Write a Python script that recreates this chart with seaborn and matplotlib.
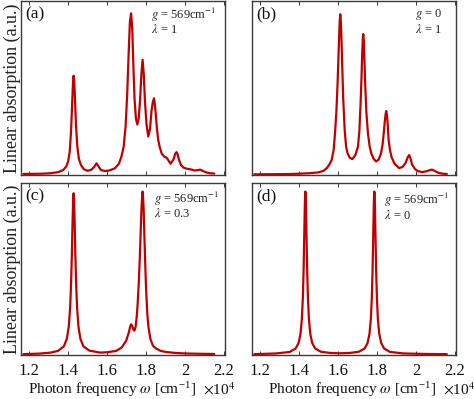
import numpy as np
import pandas as pd
import matplotlib
matplotlib.use("Agg")
import matplotlib.pyplot as plt
import seaborn as sns

# ---------------- data (x in units of 1e4 cm^-1, y normalised absorption) ----------------
xa = [1.17, 1.25, 1.31, 1.35, 1.375, 1.39, 1.40, 1.408, 1.415, 1.421, 1.425, 1.428, 1.431,
      1.435, 1.440, 1.447, 1.455, 1.465, 1.48, 1.50, 1.52, 1.535, 1.546, 1.556, 1.568, 1.588,
      1.61, 1.639, 1.66, 1.673, 1.685, 1.695, 1.703, 1.711, 1.717, 1.723, 1.729, 1.735, 1.741,
      1.748, 1.755, 1.762, 1.769, 1.776, 1.782, 1.788, 1.794, 1.802, 1.811, 1.82, 1.828, 1.835,
      1.841, 1.848, 1.855, 1.862, 1.870, 1.88, 1.892, 1.905, 1.915, 1.926, 1.94, 1.95, 1.956,
      1.962, 1.97, 1.98, 1.993, 2.007, 2.02, 2.035, 2.05, 2.065, 2.078, 2.09, 2.111, 2.13, 2.15]
ya = [0.002, 0.003, 0.006, 0.013, 0.025, 0.045, 0.075, 0.13, 0.25, 0.42, 0.53, 0.569, 0.54,
      0.44, 0.29, 0.16, 0.09, 0.055, 0.03, 0.02, 0.027, 0.045, 0.063, 0.045, 0.025, 0.019,
      0.022, 0.034, 0.06, 0.10, 0.16, 0.28, 0.46, 0.713, 0.88, 0.929, 0.84, 0.617, 0.43,
      0.32, 0.287, 0.32, 0.425, 0.58, 0.661, 0.58, 0.425, 0.29, 0.218, 0.26, 0.368, 0.42,
      0.439, 0.37, 0.272, 0.2, 0.157, 0.12, 0.103, 0.096, 0.08, 0.061, 0.085, 0.12, 0.128,
      0.115, 0.08, 0.052, 0.038, 0.033, 0.03, 0.027, 0.022, 0.024, 0.027, 0.02, 0.01, 0.006, 0.004]

xb = [1.17, 1.30, 1.364, 1.449, 1.499, 1.525, 1.542, 1.557, 1.567, 1.577, 1.584, 1.591, 1.597,
      1.601, 1.605, 1.608, 1.611, 1.614, 1.617, 1.621, 1.626, 1.634, 1.641, 1.648, 1.66, 1.673,
      1.688, 1.702, 1.709, 1.715, 1.72, 1.724, 1.727, 1.729, 1.732, 1.735, 1.739, 1.745, 1.753,
      1.762, 1.77, 1.782, 1.795, 1.808, 1.82, 1.828, 1.834, 1.84, 1.844, 1.847, 1.851, 1.855,
      1.859, 1.866, 1.874, 1.89, 1.913, 1.93, 1.946, 1.957, 1.965, 1.972, 1.98, 1.995, 2.01,
      2.031, 2.055, 2.07, 2.082, 2.095, 2.116, 2.14, 2.158]
yb = [0.0, 0.001, 0.002, 0.006, 0.011, 0.02, 0.036, 0.06, 0.084, 0.14, 0.237, 0.36, 0.52,
      0.65, 0.79, 0.88, 0.924, 0.88, 0.79, 0.63, 0.44, 0.25, 0.16, 0.122, 0.095, 0.088,
      0.11, 0.16, 0.25, 0.40, 0.56, 0.71, 0.79, 0.809, 0.77, 0.66, 0.52, 0.36, 0.237,
      0.16, 0.122, 0.09, 0.074, 0.085, 0.12, 0.17, 0.237, 0.31, 0.35, 0.365, 0.34, 0.28,
      0.2, 0.14, 0.10, 0.06, 0.036, 0.042, 0.065, 0.098, 0.111, 0.09, 0.055, 0.03, 0.018,
      0.013, 0.018, 0.024, 0.027, 0.02, 0.008, 0.003, 0.002]

xc = [1.17, 1.25, 1.31, 1.348, 1.378, 1.393, 1.403, 1.410, 1.415, 1.419, 1.422, 1.425, 1.4265,
      1.428, 1.4295, 1.431, 1.434, 1.437, 1.441, 1.446, 1.453, 1.463, 1.478, 1.508, 1.563,
      1.60, 1.647, 1.675, 1.698, 1.712, 1.718, 1.723, 1.729, 1.735, 1.740, 1.746, 1.752, 1.757,
      1.763, 1.769, 1.773, 1.776, 1.779, 1.782, 1.785, 1.788, 1.791, 1.795, 1.800, 1.806,
      1.812, 1.822, 1.835, 1.85, 1.875, 1.90, 1.95, 2.0, 2.08, 2.15]
yc = [0.001, 0.004, 0.01, 0.02, 0.047, 0.09, 0.16, 0.27, 0.41, 0.58, 0.74, 0.88, 0.925,
      0.94, 0.925, 0.88, 0.74, 0.58, 0.41, 0.27, 0.16, 0.09, 0.047, 0.022, 0.01,
      0.012, 0.02, 0.04, 0.08, 0.13, 0.16, 0.175, 0.165, 0.145, 0.138, 0.16, 0.22, 0.30,
      0.43, 0.60, 0.74, 0.84, 0.91, 0.95, 0.91, 0.83, 0.70, 0.55, 0.38, 0.24,
      0.16, 0.09, 0.05, 0.035, 0.02, 0.014, 0.008, 0.005, 0.003, 0.002]

xd = [1.17, 1.282, 1.352, 1.382, 1.397, 1.407, 1.414, 1.419, 1.423, 1.426, 1.429, 1.4305, 1.432,
      1.4335, 1.435, 1.438, 1.441, 1.445, 1.450, 1.457, 1.467, 1.482, 1.512, 1.56, 1.609, 1.66,
      1.706, 1.736, 1.751, 1.761, 1.768, 1.773, 1.777, 1.780, 1.783, 1.7845, 1.786, 1.7875,
      1.789, 1.792, 1.795, 1.799, 1.804, 1.811, 1.821, 1.836, 1.866, 1.936, 2.05, 2.158]
yd = [0.001, 0.005, 0.014, 0.034, 0.066, 0.12, 0.207, 0.331, 0.50, 0.68, 0.864, 0.927, 0.95,
      0.927, 0.864, 0.68, 0.50, 0.331, 0.207, 0.12, 0.066, 0.034, 0.015, 0.008, 0.006, 0.008,
      0.015, 0.034, 0.066, 0.12, 0.207, 0.331, 0.50, 0.68, 0.864, 0.927, 0.95, 0.927,
      0.864, 0.68, 0.50, 0.331, 0.207, 0.12, 0.066, 0.034, 0.014, 0.005, 0.002, 0.001]

panel_labels = ["(a)", "(b)", "(c)", "(d)"]
g_texts = ["$g$ = 569cm$^{-1}$", "$g$ = 0", "$g$ = 569cm$^{-1}$", "$g$ = 569cm$^{-1}$"]
lam_texts = ["$\\lambda$ = 1", "$\\lambda$ = 1", "$\\lambda$ = 0.3", "$\\lambda$ = 0"]
xticks = [1.2, 1.4, 1.6, 1.8, 2.0, 2.2]
xtick_labels = ["1.2", "1.4", "1.6", "1.8", "2", "2.2"]
xlabel_text = "Photon frequency $\\omega$ [cm$^{\\mathregular{-1}}$]"
ylabel_text = "Linear absorption (a.u.)"

# ---------------- style ----------------
sns.set_theme(style="white")
plt.rcParams["font.family"] = ["Liberation Serif", "DejaVu Serif"]
plt.rcParams["mathtext.fontset"] = "stix"

W, H = 474, 399
fig = plt.figure(figsize=(W / 100, H / 100), dpi=100)

def rect(l, t, r, b):
    return [l / W, 1 - b / H, (r - l) / W, (b - t) / H]

rects = [rect(21, 1, 225, 175), rect(252, 1, 456, 175),
         rect(21, 183, 225, 355), rect(252, 183, 456, 355)]
xs = [xa, xb, xc, xd]
ys = [ya, yb, yc, yd]
gpos = [(0.635, 0.92), (0.80, 0.92), (0.65, 0.91), (0.645, 0.90)]
lpos = [(0.635, 0.835), (0.80, 0.835), (0.65, 0.82), (0.645, 0.81)]
color = "#c00000"
spine_c = "#3a3a3a"

for i in range(4):
    ax = fig.add_axes(rects[i])
    df = pd.DataFrame({"x": xs[i], "y": ys[i]})
    sns.lineplot(data=df, x="x", y="y", ax=ax, color=color, linewidth=1.6, sort=False)
    ax.set_xlim(1.158, 2.205)
    ax.set_ylim(-0.004, 1.0)
    ax.set_yticks([])
    ax.set_xticks(xticks)
    ax.tick_params(axis="x", direction="in", length=3, width=0.7, color=spine_c,
                   top=True, bottom=True, pad=6, labelsize=12, labelcolor="#111111")
    for s in ax.spines.values():
        s.set_color(spine_c)
        s.set_linewidth(1.0)
        s.set_visible(True)
    ax.set_xlabel("")
    if i < 2:
        ax.set_xticklabels([])
    else:
        ax.set_xticklabels(xtick_labels)
    if i % 2 == 0:
        ax.set_ylabel(ylabel_text, fontsize=13, labelpad=0, color="#222222")
    else:
        ax.set_ylabel("")
    ax.text(0.02, 0.925, panel_labels[i], transform=ax.transAxes, fontsize=12.5,
            va="center", ha="left", color="#111111")
    ax.text(gpos[i][0], gpos[i][1], g_texts[i], transform=ax.transAxes, fontsize=9,
            va="center", ha="left", color="#222222")
    ax.text(lpos[i][0], lpos[i][1], lam_texts[i], transform=ax.transAxes, fontsize=9,
            va="center", ha="left", color="#222222")

for cx, tx in [(112, 203), (352, 443)]:
    fig.text(cx / W, 1 - 389 / H, xlabel_text, fontsize=11, va="center", ha="center",
             color="#111111")
    fig.text(tx / W, 1 - 389 / H, "$\\times$10$^{4}$", fontsize=11, va="center", ha="left",
             color="#111111")

fig.savefig("out.png", dpi=100)
